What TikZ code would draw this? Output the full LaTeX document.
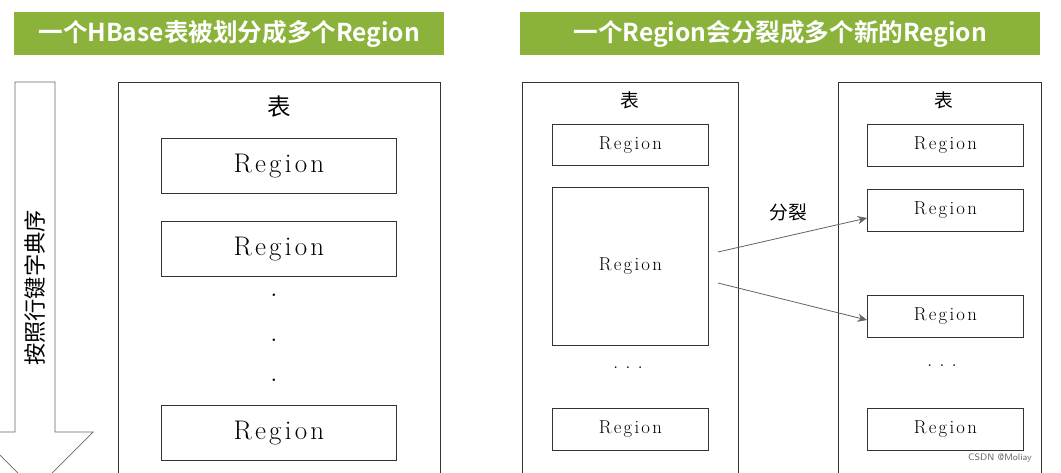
\documentclass[tikz,border=0pt]{standalone}
\usepackage{fontspec}
\newfontfamily\cjk{Noto Sans CJK SC}
\newfontfamily\cjkb{Noto Sans CJK SC Bold}
\newfontfamily\wide[LetterSpace=12]{Latin Modern Roman}
\usetikzlibrary{arrows.meta}
\definecolor{bann}{HTML}{8BB33C}
\tikzset{x=0.03cm,y=-0.03cm,
 box/.style={draw=black!80,line width=0.6pt,fill=white},
 reg/.style={draw=black!80,line width=0.6pt,fill=white,anchor=north west,inner sep=0pt},
 bigf/.style={font=\wide\fontsize{23}{23}\selectfont},
 smf/.style={font=\wide\fontsize{16}{16}\selectfont},
 banner/.style={fill=bann,anchor=north west,inner sep=0pt,text=white,font=\cjkb\fontsize{21}{21}\selectfont},
 arr/.style={-{Stealth[length=8pt,width=7pt]},draw=black!60,line width=0.7pt}}
\begin{document}
\begin{tikzpicture}
\useasboundingbox[fill=white] (0,0) rectangle (1061,472);
\node[banner,minimum width=430*0.03cm,minimum height=43*0.03cm] (b1) at (14,12) {一个HBase表被划分成多个Region};
\node[banner,minimum width=520*0.03cm,minimum height=43*0.03cm] (b2) at (520,12) {一个Region会分裂成多个新的Region};
% big arrow
\draw[draw=black!60,fill=white,line width=0.6pt] (15,82) -- (55,82) -- (55,432) -- (93,432) -- (35,490) -- (-23,432) -- (15,432) -- cycle;
\node[rotate=90,font=\cjk\fontsize{19}{19}\selectfont] (ord) at (35,288) {按照行键字典序};
% table 1
\draw[box] (118,82) rectangle (440,480);
\node[font=\cjk\fontsize{20}{20}\selectfont] (t1) at (279,107) {表};
\foreach \n/\y in {a/138,b/221,c/405}
 \node[reg,minimum width=235*0.03cm,minimum height=55*0.03cm,bigf] (r1\n) at (161,\y) {Region};
\foreach \n/\y in {1/300,2/345,3/385} \node[font=\fontsize{26}{26}\selectfont] (d\n) at (274,\y-5) {.};
% table 2
\draw[box] (522,82) rectangle (738,480);
\node[font=\cjk\fontsize{16}{16}\selectfont] (t2) at (630,100) {表};
\node[reg,minimum width=156*0.03cm,minimum height=41*0.03cm,smf] (r2a) at (552,124) {Region};
\node[reg,minimum width=156*0.03cm,minimum height=158*0.03cm,smf] (r2b) at (552,187) {Region};
\node[font=\fontsize{18}{18}\selectfont] (e2) at (628,368) {.\hspace{6pt}.\hspace{6pt}.};
\node[reg,minimum width=156*0.03cm,minimum height=42*0.03cm,smf] (r2c) at (552,408) {Region};
% table 3
\draw[box] (838,82) rectangle (1041,480);
\node[font=\cjk\fontsize{16}{16}\selectfont] (t3) at (944,100) {表};
\foreach \n/\y in {a/124,b/189,c/295,d/408}
 \node[reg,minimum width=156*0.03cm,minimum height=42*0.03cm,smf] (r3\n) at (867,\y) {Region};
\node[font=\fontsize{18}{18}\selectfont] (e3) at (942,366) {.\hspace{6pt}.\hspace{6pt}.};
% split arrows
\coordinate (s1) at (718,252); \coordinate (s2) at (718,283);
\draw[arr] (s1) -- (r3b.west |- 0,218);
\draw[arr] (s2) -- (r3c.west |- 0,320);
\node[font=\cjk\fontsize{16}{16}\selectfont] (lab) at (788,212) {分裂};
\node[font=\sffamily\fontsize{8}{8}\selectfont,text=black!60] (wm) at (1000,458) {CSDN @Moliay};
\end{tikzpicture}
\end{document}
